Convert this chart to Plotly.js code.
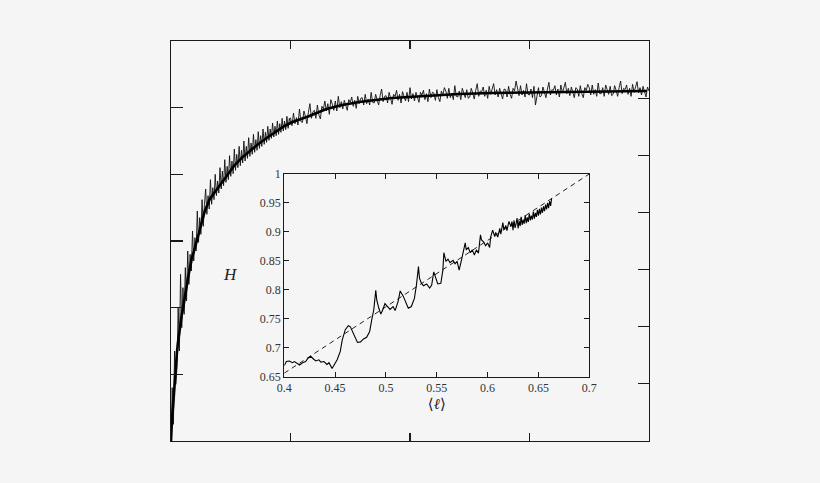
<!DOCTYPE html>
<html>
<head>
<meta charset="utf-8">
<script src="https://cdn.plot.ly/plotly-3.0.1.min.js"></script>
<style>html,body{margin:0;padding:0;background:#f5f5f5;}#chart{width:820px;height:483px;}</style>
</head>
<body>
<div id="chart"></div>
<script>
// Main plot: smooth (averaged) curve
const smoothX = [0, 0.0025, 0.008, 0.017, 0.025, 0.033, 0.042, 0.05, 0.058, 0.067, 0.075, 0.083, 0.092, 0.1, 0.108, 0.125, 0.142, 0.158, 0.175, 0.2, 0.217, 0.242, 0.258, 0.283, 0.325, 0.367, 0.408, 0.467, 0.533, 0.6, 0.658, 0.742, 0.825, 0.883, 0.95, 1.017, 1.158, 1.3, 1.433, 1.575, 1.85, 2.133, 2.408, 2.683, 3.242, 3.983];
const smoothY = [0, 0.165, 0.315, 0.51, 0.735, 0.945, 1.14, 1.335, 1.47, 1.605, 1.725, 1.83, 1.92, 1.98, 2.085, 2.25, 2.445, 2.595, 2.745, 2.895, 3.015, 3.18, 3.285, 3.45, 3.63, 3.735, 3.84, 3.975, 4.14, 4.26, 4.35, 4.47, 4.575, 4.65, 4.725, 4.785, 4.875, 4.98, 5.04, 5.085, 5.145, 5.175, 5.205, 5.22, 5.235, 5.25];

// Main plot: raw (noisy) curve, early part (start 0, step 0.01)
const rawEarlyStart = 0, rawEarlyStep = 0.01;
const rawEarlyY = [0.0, 0.8, 0.25, 1.35, 0.85, 1.1, 2.0, 1.35, 2.5, 1.7,
  2.3, 1.9, 2.6, 2.1, 2.85, 2.35, 2.8, 2.55, 3.15, 2.7,
  3.05, 2.85, 3.45, 2.98, 3.35, 3.1, 3.62, 3.22, 3.55, 3.78,
  3.4, 3.68, 3.48, 3.92, 3.55, 3.8, 3.62, 4.0, 3.68, 3.9,
  3.72, 4.1, 3.78, 4.05, 3.83, 4.22, 3.88, 4.12, 3.92, 4.28,
  3.97, 4.2, 4.01, 4.38, 4.06, 4.3, 4.1, 4.42, 4.13, 4.36,
  4.17, 4.5, 4.2, 4.42, 4.24, 4.55, 4.27, 4.47, 4.3, 4.6,
  4.33, 4.52, 4.36, 4.64, 4.39, 4.58, 4.42, 4.68, 4.45, 4.63,
  4.48, 4.72, 4.51, 4.68, 4.54, 4.77, 4.56, 4.72, 4.58, 4.8,
  4.6, 4.76, 4.63, 4.84, 4.65, 4.8, 4.67, 4.87, 4.69, 4.84, 4.78];

// Main plot: raw (noisy) curve, late part (start 1.0, step 0.0125)
const rawLateStart = 1.0, rawLateStep = 0.0125;
const rawLateY = [
  4.85, 4.73, 4.92, 4.76, 4.85, 4.74, 4.98, 4.79,
  4.78, 4.95, 4.87, 4.76, 4.93, 5.06, 4.84, 4.94,
  4.96, 4.84, 5.04, 4.89, 4.83, 5.02, 4.98, 5.10,
  4.95, 5.06, 4.90, 5.12, 5.05, 4.96, 5.10, 4.95,
  5.17, 5.00, 5.09, 4.98, 5.11, 5.04, 4.96, 5.12,
  5.08, 5.16, 5.02, 5.11, 4.99, 5.17, 5.06, 5.14,
  5.15, 5.04, 5.20, 5.06, 5.13, 5.04, 5.23, 5.08,
  5.07, 5.20, 5.13, 5.04, 5.18, 5.28, 5.09, 5.17,
  5.18, 5.07, 5.23, 5.11, 5.05, 5.20, 5.17, 5.26,
  5.11, 5.20, 5.07, 5.24, 5.18, 5.10, 5.23, 5.09,
  5.30, 5.13, 5.21, 5.10, 5.23, 5.16, 5.08, 5.23,
  5.19, 5.26, 5.12, 5.21, 5.09, 5.28, 5.15, 5.23,
  5.22, 5.11, 5.27, 5.15, 5.09, 5.25, 5.19, 5.30,
  5.25, 5.14, 5.29, 5.15, 5.22, 5.12, 5.33, 5.17,
  5.16, 5.25, 5.12, 5.29, 5.23, 5.15, 5.27, 5.14,
  5.16, 5.29, 5.22, 5.13, 5.26, 5.36, 5.17, 5.25,
  5.24, 5.31, 5.17, 5.26, 5.14, 5.32, 5.20, 5.27,
  5.36, 5.19, 5.27, 5.16, 5.29, 5.21, 5.13, 5.28,
  5.27, 5.16, 5.32, 5.20, 5.14, 5.29, 5.25, 5.40,
  5.29, 5.18, 5.33, 5.19, 5.26, 5.16, 5.36, 5.20,
  5.19, 5.28, 5.15, 5.32, 5.04, 5.18, 5.30, 5.16,
  5.18, 5.31, 5.24, 5.15, 5.28, 5.38, 5.19, 5.27,
  5.26, 5.33, 5.19, 5.28, 5.16, 5.34, 5.22, 5.29,
  5.38, 5.21, 5.29, 5.18, 5.31, 5.23, 5.15, 5.30,
  5.28, 5.17, 5.33, 5.21, 5.15, 5.30, 5.26, 5.35,
  5.30, 5.19, 5.34, 5.20, 5.27, 5.17, 5.37, 5.21,
  5.21, 5.30, 5.17, 5.34, 5.28, 5.20, 5.32, 5.18,
  5.20, 5.33, 5.26, 5.17, 5.30, 5.40, 5.21, 5.29,
  5.27, 5.34, 5.20, 5.29, 5.17, 5.35, 5.23, 5.30,
  5.39, 5.22, 5.30, 5.19, 5.32, 5.24, 5.16, 5.31,
  5.25];

// Inset: H versus <l>
const insetX = [0.400,0.402,0.405,0.408,0.410,0.413,0.415,0.418,0.421,0.423,0.426,0.429,0.431,0.434,0.436,0.439,0.442,0.444,0.447,0.449,
  0.452,0.455,0.457,0.460,0.463,0.465,0.467,0.470,0.472,0.475,0.478,0.481,0.484,0.486,0.488,0.490,0.491,0.493,0.495,0.497,
  0.499,0.501,0.504,0.507,0.509,0.512,0.514,0.517,0.520,0.522,0.525,0.528,0.530,0.532,0.533,0.535,0.537,0.540,0.543,0.545,
  0.547,0.549,0.551,0.554,0.556,0.557,0.559,0.561,0.563,0.566,0.568,0.570,0.572,0.574,0.576,0.578,0.579,0.581,0.583,0.585,
  0.587,0.589,0.591,0.593,0.594,0.596,0.598,0.600,0.602,0.603,0.605,0.607,0.608,0.610,0.612,0.613,0.615,0.616,0.618,0.619,
  0.621,0.623,
  0.624,0.625,0.626,0.627,0.628,0.629,0.630,0.631,0.632,0.633,0.634,0.635,0.636,0.637,0.638,0.639,0.640,0.641,0.642,0.643,
  0.644,0.645,0.646,0.647,0.648,0.649,0.650,0.651,0.652,0.653,0.654,0.655,0.656,0.657,0.658,0.659,0.660,0.661,0.662,0.663];
const insetY = [0.669,0.676,0.677,0.674,0.676,0.673,0.670,0.674,0.676,0.681,0.685,0.680,0.677,0.679,0.675,0.676,0.671,0.674,0.664,0.670,
  0.679,0.693,0.713,0.731,0.738,0.736,0.728,0.716,0.709,0.710,0.715,0.718,0.728,0.748,0.765,0.799,0.782,0.768,0.758,0.766,
  0.776,0.772,0.766,0.771,0.764,0.780,0.798,0.789,0.778,0.768,0.771,0.785,0.808,0.840,0.820,0.811,0.807,0.810,0.803,0.808,
  0.831,0.820,0.810,0.811,0.834,0.864,0.849,0.853,0.847,0.851,0.845,0.849,0.834,0.849,0.866,0.881,0.869,0.873,0.864,0.869,
  0.860,0.869,0.863,0.895,0.886,0.883,0.876,0.881,0.873,0.891,0.903,0.892,0.899,0.891,0.906,0.896,0.916,0.904,0.911,0.902,
  0.918,0.909,
  0.918,0.903,0.920,0.907,0.914,0.924,0.906,0.919,0.910,0.926,0.912,0.921,0.914,0.929,0.915,0.925,0.917,0.931,0.920,0.928,
  0.921,0.935,0.923,0.933,0.926,0.938,0.928,0.940,0.930,0.942,0.933,0.944,0.936,0.947,0.939,0.950,0.941,0.953,0.945,0.958];

// Inset: dashed reference line
const fitX = [0.4, 0.7];
const fitY = [0.656, 1.0];

const insetXTitle = '⟨<i>ℓ</i>⟩';
const insetYTitle = '<i>H</i>';

const ink = '#1a1a1a';
const serif = 'Liberation Serif, DejaVu Serif, serif';

const traces = [
  {y: rawEarlyY, x0: rawEarlyStart, dx: rawEarlyStep, xaxis: 'x', yaxis: 'y', type: 'scatter', mode: 'lines',
   line: {color: '#111', width: 0.9}, hoverinfo: 'skip'},
  {y: rawLateY, x0: rawLateStart, dx: rawLateStep, xaxis: 'x', yaxis: 'y', type: 'scatter', mode: 'lines',
   line: {color: '#111', width: 0.9}, hoverinfo: 'skip'},
  {x: smoothX, y: smoothY, xaxis: 'x', yaxis: 'y', type: 'scatter', mode: 'lines',
   line: {color: '#000', width: 2.6}, hoverinfo: 'skip'},
  // invisible copy bound to the right-hand tick axis so that axis is drawn
  {x: smoothX, y: smoothY, xaxis: 'x', yaxis: 'y3', type: 'scatter', mode: 'lines',
   line: {color: 'rgba(0,0,0,0)', width: 0}, hoverinfo: 'skip'},
  {x: fitX, y: fitY, xaxis: 'x2', yaxis: 'y2', type: 'scatter', mode: 'lines',
   line: {color: '#222', width: 1, dash: '5px,4px'}, hoverinfo: 'skip'},
  {x: insetX, y: insetY, xaxis: 'x2', yaxis: 'y2', type: 'scatter', mode: 'lines',
   line: {color: '#000', width: 1.1}, hoverinfo: 'skip'}
];

const layout = {
  width: 820, height: 483,
  margin: {l: 171, r: 171, t: 41, b: 42, pad: 0},
  paper_bgcolor: '#f5f5f5', plot_bgcolor: '#f5f5f5',
  showlegend: false,
  font: {family: serif, color: '#333', size: 12},
  xaxis: {domain: [0, 1], range: [0, 4], dtick: 1, tick0: 0, ticks: 'inside', ticklen: 8, tickwidth: 1.2,
    tickcolor: ink, showline: true, linecolor: ink, linewidth: 1.4, mirror: 'ticks',
    showticklabels: false, showgrid: false, zeroline: false, fixedrange: true},
  yaxis: {domain: [0, 1], range: [0, 6], dtick: 1, tick0: 0, ticks: 'inside', ticklen: 12, tickwidth: 1.2,
    tickcolor: ink, showline: true, linecolor: ink, linewidth: 1.4, mirror: true,
    showticklabels: false, showgrid: false, zeroline: false, fixedrange: true},
  yaxis3: {overlaying: 'y', side: 'right', anchor: 'x', range: [0, 7], dtick: 1, tick0: 0,
    ticks: 'inside', ticklen: 11, tickwidth: 1.2, tickcolor: ink, showline: false,
    showticklabels: false, showgrid: false, zeroline: false, fixedrange: true},
  xaxis2: {domain: [0.237, 0.875], anchor: 'y2', range: [0.4, 0.7], dtick: 0.05, tick0: 0.4,
    ticks: 'inside', ticklen: 5, tickwidth: 1, tickcolor: ink, showline: true, linecolor: ink, linewidth: 1.1,
    mirror: 'ticks', showgrid: false, zeroline: false, fixedrange: true,
    tickfont: {family: serif, size: 12, color: '#333'},
    title: {text: insetXTitle, font: {family: 'DejaVu Serif, serif', size: 15, color: '#222'}, standoff: 4}},
  yaxis2: {domain: [0.161, 0.6675], anchor: 'x2', range: [0.65, 1.0], dtick: 0.05, tick0: 0.65,
    ticks: 'inside', ticklen: 5, tickwidth: 1, tickcolor: ink, showline: true, linecolor: ink, linewidth: 1.1,
    mirror: 'ticks', showgrid: false, zeroline: false, fixedrange: true,
    tickfont: {family: serif, size: 12, color: '#333'}},
  annotations: [
    {text: insetYTitle, xref: 'paper', yref: 'paper', x: 0.1255, y: 0.4175, xanchor: 'center', yanchor: 'middle',
     showarrow: false, font: {family: serif, size: 17, color: '#222'}}
  ]
};

Plotly.newPlot('chart', traces, layout, {staticPlot: true, displayModeBar: false});
</script>
</body>
</html>
